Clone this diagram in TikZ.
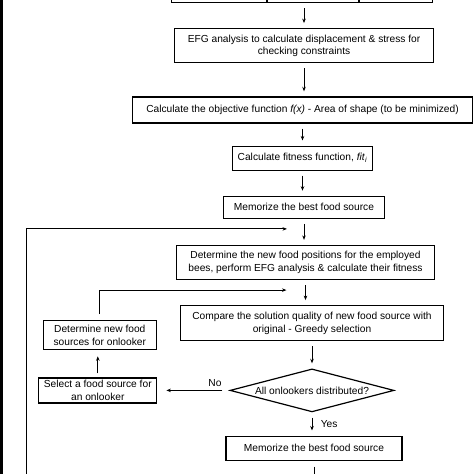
\documentclass[tikz,border=0pt]{standalone}
\usepackage{fontspec}
\setmainfont{Liberation Sans}
\usetikzlibrary{shapes.geometric, arrows.meta, positioning}

\begin{document}
\begin{tikzpicture}[
    x=1pt, y=-1pt,
    font=\fontsize{10.2}{12.5}\selectfont,
    box/.style={draw, rectangle, line width=1.2pt, align=center, inner sep=2pt},
    decision/.style={draw, diamond, aspect=3.8, line width=1.2pt, align=center, inner sep=0pt, minimum width=164pt, minimum height=43pt},
    arrow/.style={-{Stealth[length=4.5pt, width=3.5pt]}, line width=0.9pt},
    flow/.style={arrow, shorten <=5pt, shorten >=5pt}
]
\path[use as bounding box, clip] (0,0) rectangle (474,474);

% frame edge on the left
\draw[line width=3pt] (1.5,0) -- (1.5,474);

\node[box, minimum width=261pt, minimum height=21pt] (init) at (302,-8) {};
\draw[line width=1.2pt] ([xshift=-35pt]init.south) -- ([xshift=-35pt]init.north);
\draw[line width=1.2pt] ([xshift=57pt]init.south) -- ([xshift=57pt]init.north);

\node[box, below=25pt of init, xshift=2pt, minimum width=259pt, minimum height=34pt] (efg) {EFG analysis to calculate displacement \& stress for\\checking constraints};
\node[box, below=33pt of efg, xshift=-1.5pt, minimum width=340pt, minimum height=26pt] (obj) {Calculate the objective function \textit{f(x)} - Area of shape (to be minimized)};
\node[box, below=22pt of obj, minimum width=140pt, minimum height=24pt] (fit) {Calculate fitness function, \textit{fit}\textsubscript{\textit{i}}};
\node[box, below=25pt of fit, xshift=1.5pt, minimum width=161pt, minimum height=22pt] (mem1) {Memorize the best food source};
\node[box, below=26pt of mem1, xshift=1.5pt, minimum width=258pt, minimum height=34pt] (emp) {Determine the new food positions for the employed\\bees, perform EFG analysis \& calculate their fitness};
\node[box, below=25pt of emp, xshift=6.5pt, minimum width=263pt, minimum height=35pt] (cmp) {Compare the solution quality of new food source with\\original - Greedy selection};
\node[decision, below=27pt of cmp] (dist) {All onlookers distributed?};
\node[box, below=23pt of dist, xshift=2pt, minimum width=176pt, minimum height=24pt] (mem2) {Memorize the best food source};

\node[box, left=23pt of cmp, yshift=-12pt, minimum width=113pt, minimum height=29pt] (onl) {Determine new food\\sources for onlooker};
\node[box, left=72pt of dist, minimum width=118pt, minimum height=25pt] (sel) {Select a food source for\\an onlooker};

\coordinate[below=10pt of mem1.south, xshift=-17pt] (join1);
\coordinate[below=10pt of emp.south, xshift=-19pt] (join2);
\coordinate (loopin) at (26,480);
\coordinate[below=30pt of mem2.south] (next);

\draw[flow] (init.south -| efg.north) -- (efg.north);
\draw[flow] (efg.south) -- (efg.south |- obj.north);
\draw[flow] (obj.south) -- (obj.south |- fit.north);
\draw[flow] (fit.south) -- (fit.south |- mem1.north);
\draw[flow] (mem1.south) -- (mem1.south |- emp.north);
\draw[flow] (emp.south) -- (emp.south |- cmp.north);
\draw[flow] (cmp.south) -- (cmp.south |- dist.north);
\draw[flow] (dist.south) -- node[right=5pt] {Yes} (dist.south |- mem2.north);
\draw[arrow, shorten <=6pt] (mem2.south) -- (next);

\draw[arrow, shorten <=7pt, shorten >=9pt] (dist.west) -- node[above, pos=0.2] {No} (sel.east);
\draw[arrow, shorten <=4pt, shorten >=6pt] (sel.north) -- (sel.north |- onl.south);
\draw[arrow, shorten <=6pt] (onl.north) |- (join2);
\draw[arrow] (loopin) |- (join1);

\end{tikzpicture}
\end{document}
